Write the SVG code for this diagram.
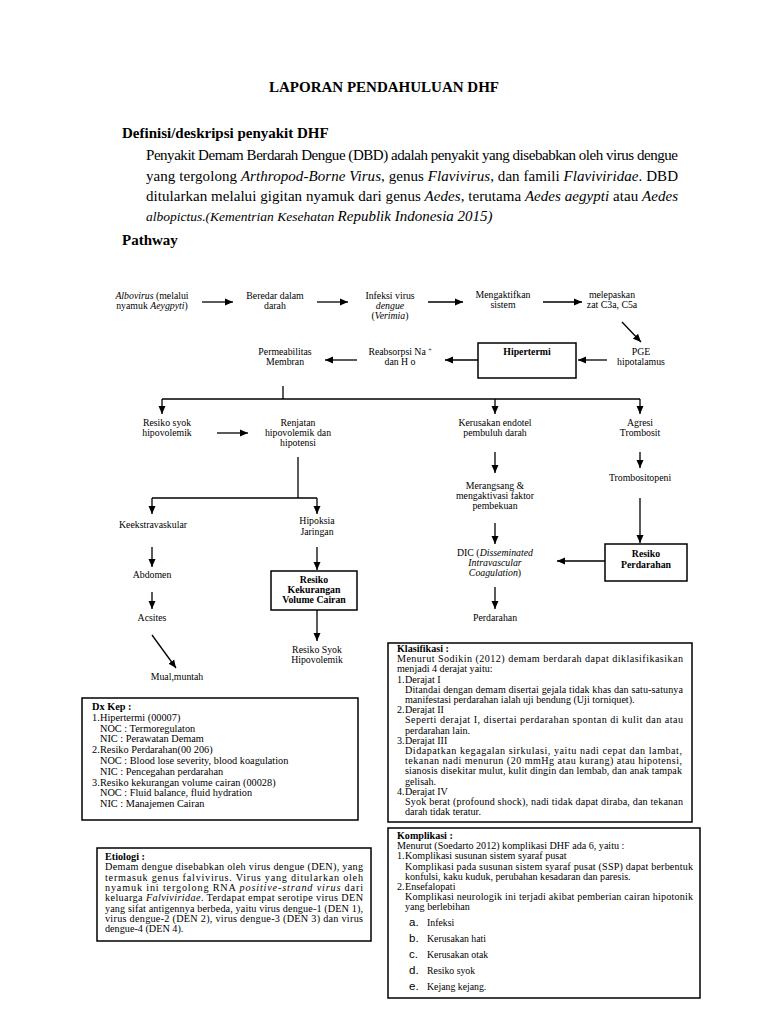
<svg xmlns="http://www.w3.org/2000/svg" width="768" height="1024" viewBox="0 0 768 1024">
<defs>
<marker id="ah" markerUnits="userSpaceOnUse" markerWidth="8" markerHeight="8" refX="8" refY="4" orient="auto">
<path d="M0,0.5 L8,4 L0,7.5 z" fill="#000"/>
</marker>
<style>
text{font-family:"Liberation Serif","Times New Roman",serif;fill:#000}
.h{font-size:15px;font-weight:bold}
.pg{font-size:15px}
.p{font-size:9.8px;text-anchor:middle}
.b{font-weight:bold}
.i{font-style:italic}
.bx{font-size:10.1px}
.dx{font-size:10.3px}
.et{font-size:10.2px}
.sn{font-family:"Liberation Sans",Arial,sans-serif;font-size:11.5px}
.sm{font-size:9.8px}
.ln{stroke:#000;stroke-width:1.3;fill:none}
.ar{stroke:#000;stroke-width:1.3;fill:none;marker-end:url(#ah)}
.tb{fill:#fff;stroke:#000;stroke-width:1.5}
</style>
</defs>
<rect width="768" height="1024" fill="#fff"/>

<g id="header">
<text class="h" x="384" y="92" text-anchor="middle">LAPORAN PENDAHULUAN DHF</text>
<text class="h" x="122" y="138">Definisi/deskripsi penyakit DHF</text>
<text class="pg" x="146" y="160" textLength="532" lengthAdjust="spacing">Penyakit Demam Berdarah Dengue (DBD) adalah penyakit yang disebabkan oleh virus dengue</text>
<text class="pg" x="146" y="181" textLength="532" lengthAdjust="spacing">yang tergolong <tspan class="i">Arthropod-Borne Virus</tspan>, genus <tspan class="i">Flavivirus</tspan>, dan famili <tspan class="i">Flaviviridae</tspan>. DBD</text>
<text class="pg" x="146" y="201" textLength="532" lengthAdjust="spacing">ditularkan melalui gigitan nyamuk dari genus <tspan class="i">Aedes</tspan>, terutama <tspan class="i">Aedes aegypti</tspan> atau <tspan class="i">Aedes</tspan></text>
<text class="pg i" x="146" y="221"><tspan font-size="13.5">albopictus.(Kementrian Kesehatan </tspan><tspan font-size="15">Republik Indonesia 2015)</tspan></text>
<text class="h" x="122" y="245">Pathway</text>
</g>

<g id="connectors">
<line class="ar" x1="202" y1="302" x2="233" y2="302"/>
<line class="ar" x1="317" y1="302" x2="348" y2="302"/>
<line class="ar" x1="428" y1="302" x2="463" y2="302"/>
<line class="ar" x1="543" y1="302" x2="582" y2="302"/>
<line class="ar" x1="622" y1="322" x2="641" y2="342"/>
<line class="ar" x1="607" y1="360" x2="578" y2="360"/>
<line class="ar" x1="478" y1="360" x2="445" y2="360"/>
<line class="ar" x1="357" y1="360" x2="325" y2="360"/>
<line class="ln" x1="283" y1="386" x2="283" y2="399"/>
<line class="ln" x1="162" y1="399" x2="640" y2="399"/>
<line class="ar" x1="162" y1="399" x2="162" y2="414"/>
<line class="ar" x1="495" y1="399" x2="495" y2="414"/>
<line class="ar" x1="640" y1="399" x2="640" y2="414"/>
<line class="ar" x1="217" y1="433" x2="248" y2="433"/>
<line class="ln" x1="298" y1="457" x2="298" y2="498"/>
<line class="ln" x1="152" y1="498" x2="317" y2="498"/>
<line class="ar" x1="152" y1="498" x2="152" y2="514"/>
<line class="ar" x1="317" y1="498" x2="317" y2="514"/>
<line class="ar" x1="152" y1="547" x2="152" y2="567"/>
<line class="ar" x1="152" y1="592" x2="152" y2="609"/>
<line class="ar" x1="152" y1="635" x2="176" y2="668"/>
<line class="ar" x1="317" y1="547" x2="317" y2="570"/>
<line class="ar" x1="317" y1="610" x2="317" y2="641"/>
<line class="ar" x1="495" y1="452" x2="495" y2="473"/>
<line class="ar" x1="495" y1="523" x2="495" y2="544"/>
<line class="ar" x1="495" y1="587" x2="495" y2="609"/>
<line class="ar" x1="640" y1="452" x2="640" y2="468"/>
<line class="ar" x1="640" y1="498" x2="640" y2="543"/>
<line class="ar" x1="605" y1="561" x2="557" y2="561"/>
</g>

<g id="n-albovirus"><text class="p" x="152" y="299"><tspan class="i">Albovirus</tspan> (melalui</text><text class="p" x="152" y="309">nyamuk <tspan class="i">Aeygpyti</tspan>)</text></g>
<g id="n-beredar"><text class="p" x="275" y="299">Beredar dalam</text><text class="p" x="275" y="309">darah</text></g>
<g id="n-infeksi"><text class="p" x="390" y="299">Infeksi virus</text><text class="p i" x="390" y="309">dengue</text><text class="p" x="390" y="319">(<tspan class="i">Verimia</tspan>)</text></g>
<g id="n-mengaktifkan"><text class="p" x="503" y="298">Mengaktifkan</text><text class="p" x="503" y="308">sistem</text></g>
<g id="n-melepaskan"><text class="p" x="612" y="298">melepaskan</text><text class="p" x="612" y="308">zat C3a, C5a</text></g>
<g id="n-pge"><text class="p" x="641" y="355">PGE</text><text class="p" x="641" y="365">hipotalamus</text></g>
<g id="n-hipertermi"><rect class="tb" x="478" y="343" width="98" height="35"/><text class="p b" x="527" y="355">Hipertermi</text></g>
<g id="n-reabsorpsi"><text class="p" x="400" y="355">Reabsorpsi Na <tspan font-size="6" dy="-3">+</tspan></text><text class="p" x="400" y="365">dan H o</text></g>
<g id="n-permeabilitas"><text class="p" x="285" y="355">Permeabilitas</text><text class="p" x="285" y="365">Membran</text></g>
<g id="n-resiko-syok"><text class="p" x="167" y="426">Resiko syok</text><text class="p" x="167" y="436">hipovolemik</text></g>
<g id="n-renjatan"><text class="p" x="298" y="426">Renjatan</text><text class="p" x="298" y="436">hipovolemik dan</text><text class="p" x="298" y="446">hipotensi</text></g>
<g id="n-kerusakan"><text class="p" x="495" y="426">Kerusakan endotel</text><text class="p" x="495" y="436">pembuluh darah</text></g>
<g id="n-agresi"><text class="p" x="640" y="426">Agresi</text><text class="p" x="640" y="436">Trombosit</text></g>
<g id="n-merangsang"><text class="p" x="495" y="489">Merangsang &amp;</text><text class="p" x="495" y="499">mengaktivasi faktor</text><text class="p" x="495" y="509">pembekuan</text></g>
<g id="n-trombositopeni"><text class="p" x="640" y="481">Trombositopeni</text></g>
<g id="n-dic"><text class="p" x="495" y="556">DIC (<tspan class="i">Disseminated</tspan></text><text class="p i" x="495" y="566">Intravascular</text><text class="p" x="495" y="576"><tspan class="i">Coagulation</tspan>)</text></g>
<g id="n-resiko-perdarahan"><rect class="tb" x="605" y="544" width="82" height="37"/><text class="p b" x="646" y="557">Resiko</text><text class="p b" x="646" y="568">Perdarahan</text></g>
<g id="n-perdarahan"><text class="p" x="495" y="621">Perdarahan</text></g>
<g id="n-keekstravaskular"><text class="p" x="153" y="528">Keekstravaskular</text></g>
<g id="n-hipoksia"><text class="p" x="317" y="524">Hipoksia</text><text class="p" x="317" y="535">Jaringan</text></g>
<g id="n-abdomen"><text class="p" x="152" y="578">Abdomen</text></g>
<g id="n-acsites"><text class="p" x="152" y="621">Acsites</text></g>
<g id="n-mual"><text class="p" x="177" y="680">Mual,muntah</text></g>
<g id="n-resiko-kekurangan"><rect class="tb" x="271" y="571" width="86" height="39"/><text class="p b" x="314" y="583">Resiko</text><text class="p b" x="314" y="593">Kekurangan</text><text class="p b" x="314" y="603">Volume Cairan</text></g>
<g id="n-resiko-syok-hipo"><text class="p" x="317" y="653">Resiko Syok</text><text class="p" x="317" y="663">Hipovolemik</text></g>

<g id="dx-kep">
<rect class="tb" x="82" y="698" width="276" height="122"/>
<text class="dx b" x="92" y="710">Dx Kep :</text>
<text class="dx" x="92" y="720.8">1.</text><text class="dx" x="100" y="720.8">Hipertermi (00007)</text>
<text class="dx" x="100" y="731.6">NOC : Termoregulaton</text>
<text class="dx" x="100" y="742.4">NIC : Perawatan Demam</text>
<text class="dx" x="92" y="753.2">2.</text><text class="dx" x="100" y="753.2">Resiko Perdarahan(00 206)</text>
<text class="dx" x="100" y="764">NOC : Blood lose severity, blood koagulation</text>
<text class="dx" x="100" y="774.8">NIC : Pencegahan perdarahan</text>
<text class="dx" x="92" y="785.6">3.</text><text class="dx" x="100" y="785.6">Resiko kekurangan volume cairan (00028)</text>
<text class="dx" x="100" y="796.4">NOC : Fluid balance, fluid hydration</text>
<text class="dx" x="100" y="807.2">NIC : Manajemen Cairan</text>
</g>

<g id="klasifikasi">
<rect class="tb" x="388" y="643" width="304" height="179"/>
<text class="bx b" x="397" y="652">Klasifikasi :</text>
<text class="bx" x="397" y="662.2" textLength="286" lengthAdjust="spacing">Menurut Sodikin (2012) demam berdarah dapat diklasifikasikan</text>
<text class="bx" x="397" y="672.4">menjadi 4 derajat yaitu:</text>
<text class="bx" x="397" y="682.6">1.</text><text class="bx" x="405" y="682.6">Derajat I</text>
<text class="bx" x="405" y="692.8" textLength="278" lengthAdjust="spacing">Ditandai dengan demam disertai gejala tidak khas dan satu-satunya</text>
<text class="bx" x="405" y="703">manifestasi perdarahan ialah uji bendung (Uji torniquet).</text>
<text class="bx" x="397" y="713.2">2.</text><text class="bx" x="405" y="713.2">Derajat II</text>
<text class="bx" x="405" y="723.4" textLength="278" lengthAdjust="spacing">Seperti derajat I, disertai perdarahan spontan di kulit dan atau</text>
<text class="bx" x="405" y="733.6">perdarahan lain.</text>
<text class="bx" x="397" y="743.8">3.</text><text class="bx" x="405" y="743.8">Derajat III</text>
<text class="bx" x="405" y="754" textLength="277" lengthAdjust="spacing">Didapatkan kegagalan sirkulasi, yaitu nadi cepat dan lambat,</text>
<text class="bx" x="405" y="764.2" textLength="277" lengthAdjust="spacing">tekanan nadi menurun (20 mmHg atau kurang) atau hipotensi,</text>
<text class="bx" x="405" y="774.4" textLength="277" lengthAdjust="spacing">sianosis disekitar mulut, kulit dingin dan lembab, dan anak tampak</text>
<text class="bx" x="405" y="784.6">gelisah.</text>
<text class="bx" x="397" y="794.8">4.</text><text class="bx" x="405" y="794.8">Derajat IV</text>
<text class="bx" x="405" y="805" textLength="278" lengthAdjust="spacing">Syok berat (profound shock), nadi tidak dapat diraba, dan tekanan</text>
<text class="bx" x="405" y="815.2">darah tidak teratur.</text>
</g>

<g id="komplikasi">
<rect class="tb" x="388" y="828" width="312" height="170"/>
<text class="bx b" x="397" y="839">Komplikasi :</text>
<text class="bx" x="397" y="849.2">Menurut (Soedarto 2012) komplikasi DHF ada 6, yaitu :</text>
<text class="bx" x="397" y="859.4">1.</text><text class="bx" x="405" y="859.4">Komplikasi susunan sistem syaraf pusat</text>
<text class="bx" x="405" y="869.6" textLength="288" lengthAdjust="spacing">Komplikasi pada susunan sistem syaraf pusat (SSP) dapat berbentuk</text>
<text class="bx" x="405" y="879.8">konfulsi, kaku kuduk, perubahan kesadaran dan paresis.</text>
<text class="bx" x="397" y="890">2.</text><text class="bx" x="405" y="890">Ensefalopati</text>
<text class="bx" x="405" y="900.2" textLength="288" lengthAdjust="spacing">Komplikasi neurologik ini terjadi akibat pemberian cairan hipotonik</text>
<text class="bx" x="405" y="910.4">yang berlebihan</text>
<text class="sn" x="409" y="926">a.</text><text class="sm" x="427" y="926">Infeksi</text>
<text class="sn" x="409" y="942">b.</text><text class="sm" x="427" y="942">Kerusakan hati</text>
<text class="sn" x="409" y="958">c.</text><text class="sm" x="427" y="958">Kerusakan otak</text>
<text class="sn" x="409" y="974">d.</text><text class="sm" x="427" y="974">Resiko syok</text>
<text class="sn" x="409" y="990">e.</text><text class="sm" x="427" y="990">Kejang kejang.</text>
</g>

<g id="etiologi">
<rect class="tb" x="97" y="848" width="274" height="93"/>
<text class="et b" x="105" y="860">Etiologi :</text>
<text class="et" x="105" y="870.3" textLength="258" lengthAdjust="spacing">Demam dengue disebabkan oleh virus dengue (DEN), yang</text>
<text class="et" x="105" y="880.6" textLength="258" lengthAdjust="spacing">termasuk genus falvivirus. Virus yang ditularkan oleh</text>
<text class="et" x="105" y="890.9" textLength="258" lengthAdjust="spacing">nyamuk ini tergolong RNA <tspan class="i">positive-strand virus</tspan> dari</text>
<text class="et" x="105" y="901.2" textLength="258" lengthAdjust="spacing">keluarga <tspan class="i">Falviviridae</tspan>. Terdapat empat serotipe virus DEN</text>
<text class="et" x="105" y="911.5" textLength="258" lengthAdjust="spacing">yang sifat antigennya berbeda, yaitu virus dengue-1 (DEN 1),</text>
<text class="et" x="105" y="921.8" textLength="258" lengthAdjust="spacing">virus dengue-2 (DEN 2), virus dengue-3 (DEN 3) dan virus</text>
<text class="et" x="105" y="932.1">dengue-4 (DEN 4).</text>
</g>
</svg>
